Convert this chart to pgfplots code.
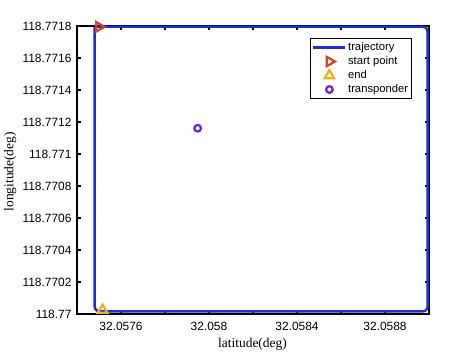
\documentclass[border=0pt]{standalone}
\usepackage{pgfplots}
\pgfplotsset{compat=1.18}
\usepackage{fontspec}
\setmainfont{Liberation Sans}
\newfontfamily\timesfont{Liberation Serif}
\definecolor{trajblue}{RGB}{30,45,220}
\definecolor{startred}{RGB}{217,68,30}
\definecolor{endorange}{RGB}{237,177,32}
\definecolor{tpurple}{RGB}{115,30,220}
\begin{document}
\begin{tikzpicture}
\begin{axis}[name=ax, scale only axis, width=352bp, height=288bp,
  xmin=4, xmax=20, ymin=0, ymax=18, clip=false,
  axis line style={line width=1.6bp, black},
  every tick/.style={line width=1.2bp, black},
  major tick length=4bp, tick align=inside,
  xtick={6,8,10,12,14,16,18},
  xticklabels={32.0576,{},32.058,{},32.0584,{},32.0588},
  ytick={0,2,4,6,8,10,12,14,16,18},
  yticklabels={118.77,118.7702,118.7704,118.7706,118.7708,118.771,118.7712,118.7714,118.7716,118.7718},
  ticklabel style={font=\fontsize{12}{14}\selectfont},
  xticklabel style={yshift=-5bp},
  yticklabel style={xshift=-2bp},
  xlabel={latitude(deg)}, ylabel={longitude(deg)},
  label style={font=\timesfont\fontsize{13.5}{16}\selectfont},
  xlabel style={at={(axis description cs:0.4986,-0.106)}, anchor=center},
  ylabel style={at={(axis description cs:-0.19,0.494)}, anchor=center, rotate=0},
  legend cell align=left,
  legend image code/.code={\draw[mark repeat=2,mark phase=2,#1] plot coordinates {(0bp,0bp) (16bp,0bp) (32bp,0bp)};},
  legend style={at={(0.952,0.957)}, anchor=north east, draw=black, line width=0.8bp,
    font=\fontsize{11.3}{13}\selectfont, inner xsep=2bp, inner ysep=2bp,
    nodes={inner sep=1.5bp, text height=8bp, text depth=2.5bp}, row sep=0.5bp},
]
\addplot[color=trajblue, line width=2.4bp, line join=round] coordinates {
 (4.8,17.95) (4.8,0.473) (4.830,0.317) (4.914,0.202) (5.027,0.16)
 (19.713,0.16) (19.827,0.202) (19.910,0.317) (19.94,0.473)
 (19.94,17.637) (19.910,17.794) (19.827,17.909) (19.713,17.95) (4.8,17.95)};
\addlegendentry{trajectory}
\addplot[only marks, mark=triangle, mark options={rotate=-90, line width=2.2bp}, color=startred, mark size=5.5bp] coordinates {(5.0,17.95)};
\addlegendentry{start point}
\addplot[only marks, mark=triangle, mark options={line width=2.2bp}, color=endorange, mark size=5.5bp] coordinates {(5.16,0.25)};
\addlegendentry{end}
\addplot[only marks, mark=o, mark options={line width=2.2bp}, color=tpurple, mark size=3.3bp] coordinates {(9.486,11.61)};
\addlegendentry{transponder}
\end{axis}
\path ([shift={(-77bp,-40bp)}]ax.south west) rectangle ([shift={(45bp,26bp)}]ax.north east);
\end{tikzpicture}
\end{document}
